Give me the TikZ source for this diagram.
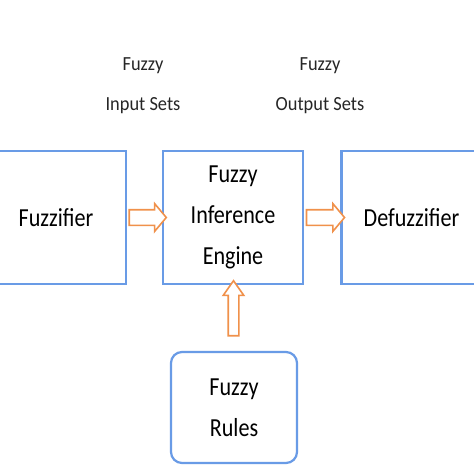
\documentclass[tikz,border=0pt]{standalone}
\usepackage{fontspec}
\setmainfont{Carlito}
\usetikzlibrary{shapes.arrows,calc}
\definecolor{boxblue}{RGB}{105,155,230}
\definecolor{arrorange}{RGB}{240,145,75}
\newcommand{\cx}[1]{\scalebox{0.85}[1]{#1}}
\newcommand{\cy}[1]{\scalebox{0.92}[1]{#1}}
\tikzset{
  blockbox/.style={draw=boxblue, line width=2.2pt, fill=white, minimum width=140pt, minimum height=133pt, inner sep=0pt},
  rulebox/.style={draw=boxblue, line width=2.2pt, rounded corners=11pt, minimum width=126pt, minimum height=111pt, inner sep=0pt},
  boxtext/.style={font=\fontsize{26}{41}\selectfont, align=center, text=black},
  labeltext/.style={font=\fontsize{20}{40}\selectfont, align=center, text=black!85},
  fatarrow/.style={single arrow, draw=arrorange, line width=1.6pt, fill=white, single arrow head indent=0pt}
}
\begin{document}
\begin{tikzpicture}[x=1pt,y=-1pt]
\useasboundingbox (0,0) rectangle (474,474);
\clip (0,0) rectangle (474,474);
\fill[white] (0,0) rectangle (474,474);
% boxes
\node[blockbox] (fz) at (56,217.5) {};
\node[blockbox] (fie) at (233,217.5) {};
\node[blockbox] (dfz) at (411.5,217.5) {};
\node[rulebox] (fr) at (234,407.5) {};
% texts
\node[boxtext] (fzt) at (fz.center) {\cx{Fuzzifier}};
\node[boxtext] (fiet) at (fie.center) {\cx{Fuzzy}\\\cx{Inference}\\\cx{Engine}};
\node[boxtext] (dfzt) at (dfz.center) {\cx{Defuzzifier}};
\node[boxtext] (frt) at (fr.center) {\cx{Fuzzy}\\\cx{Rules}};
\node[labeltext] (inl) at (143,86) {\cy{Fuzzy}\\\cy{Input Sets}};
\node[labeltext] (outl) at (320,86) {\cy{Fuzzy}\\\cy{Output Sets}};
% arrows
\node[fatarrow, inner xsep=0pt, inner ysep=7pt, single arrow head extend=6pt, minimum height=37pt, single arrow tip angle=100] (a1) at ($(fz.east)!0.5!(fie.west)$) {};
\node[fatarrow, inner xsep=0pt, inner ysep=7pt, single arrow head extend=6pt, minimum height=38pt, single arrow tip angle=100] (a2) at ($(fie.east)!0.5!(dfz.west)$) {};
\node[fatarrow, shape border rotate=90, inner sep=4.5pt, single arrow head extend=5pt, minimum height=55pt, single arrow tip angle=70] (a3) at ($(fie.south)!0.5!(fr.north)+(0,-6)$) {};
\end{tikzpicture}
\end{document}
